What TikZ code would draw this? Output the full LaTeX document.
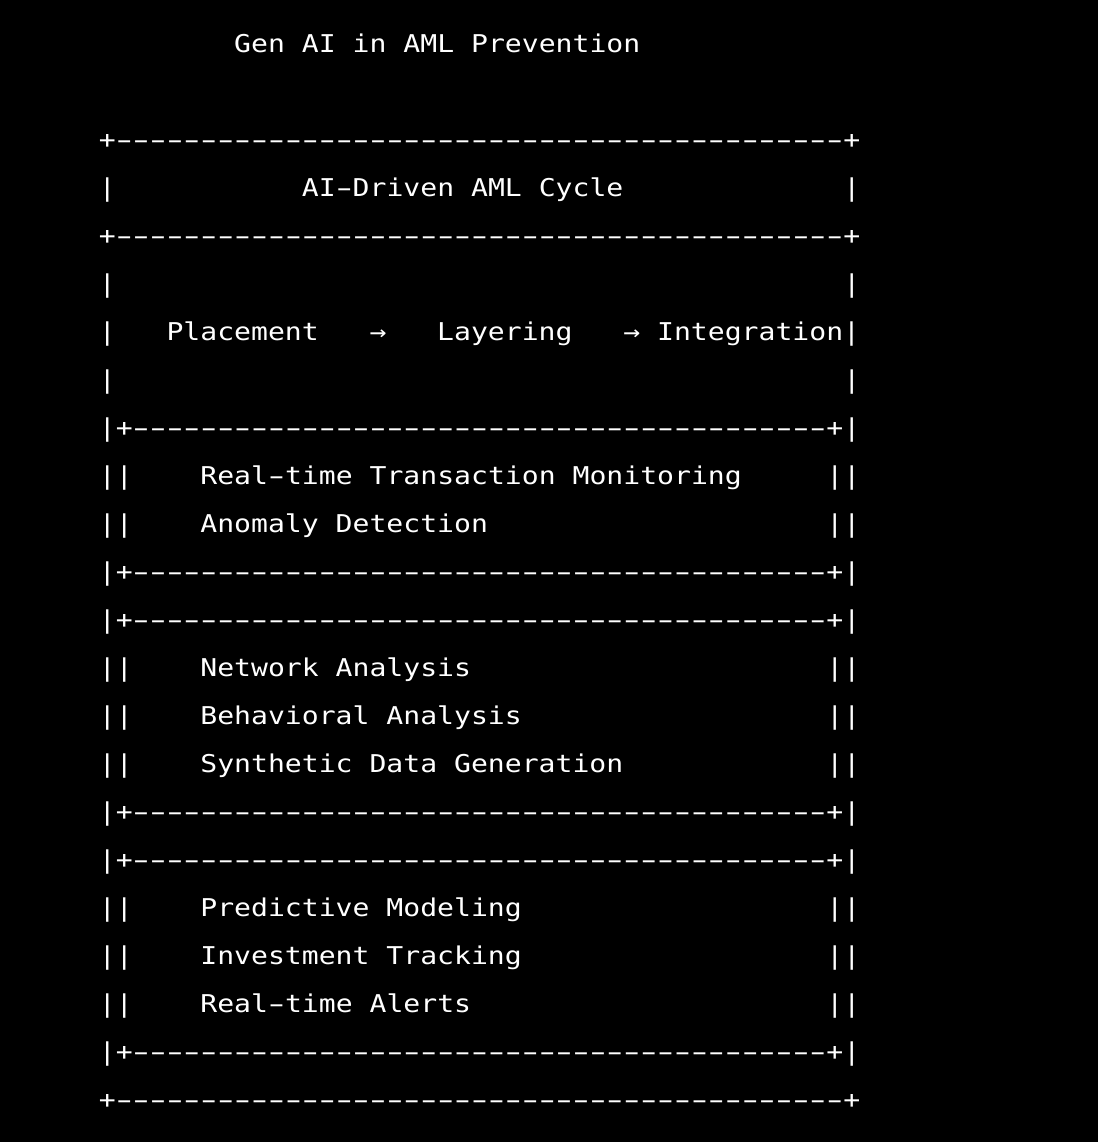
\documentclass[tikz,border=0pt]{standalone}
\usepackage{fontspec}
\usepackage{graphicx}
\newfontfamily\term[FakeStretch=1.147,Ligatures=TeXOff]{DejaVu Sans Mono}
\newcommand{\repeatch}[2]{\foreach \i in {1,...,#1}{#2}}
% wide hyphen, one cell
\newcommand{\dsh}{\makebox[\fontcharwd\font`\-][c]{\scalebox{1.65}[1]{-}}}
\tikzset{ascii/.style={anchor=base west,inner sep=0pt,text=white,font=\term\fontsize{12.25pt}{24pt}\selectfont}}
\begin{document}
\begin{tikzpicture}[x=0.5pt,y=-0.5pt]
\fill[black] (0,0) rectangle (1098,1142);
\node[ascii] (title) at (98.5,52) {\repeatch{8}{~}Gen AI in AML Prevention};
\node[ascii] (top) at (98.5,148) {+\repeatch{43}{\dsh}+};
\node[ascii] (head) at (98.5,196) {|\repeatch{11}{~}AI\dsh Driven AML Cycle\repeatch{13}{~}|};
\node[ascii] (sep) at (98.5,244) {+\repeatch{43}{\dsh}+};
\node[ascii] (gapa) at (98.5,292) {|\repeatch{43}{~}|};
\node[ascii] (flow) at (98.5,340) {|~~~Placement~~~→~~~Layering~~~→~Integration|};
\node[ascii] (gapb) at (98.5,388) {|\repeatch{43}{~}|};
% detection box
\node[ascii] (detTop) at (98.5,436) {|+\repeatch{41}{\dsh}+|};
\node[ascii] (rtm) at (98.5,484) {||~~~~Real\dsh time Transaction Monitoring\repeatch{5}{~}||};
\node[ascii] (anom) at (98.5,532) {||~~~~Anomaly Detection\repeatch{20}{~}||};
\node[ascii] (detBot) at (98.5,580) {|+\repeatch{41}{\dsh}+|};
% analysis box
\node[ascii] (anaTop) at (98.5,628) {|+\repeatch{41}{\dsh}+|};
\node[ascii] (net) at (98.5,676) {||~~~~Network Analysis\repeatch{21}{~}||};
\node[ascii] (beh) at (98.5,724) {||~~~~Behavioral Analysis\repeatch{18}{~}||};
\node[ascii] (syn) at (98.5,772) {||~~~~Synthetic Data Generation\repeatch{12}{~}||};
\node[ascii] (anaBot) at (98.5,820) {|+\repeatch{41}{\dsh}+|};
% prediction box
\node[ascii] (preTop) at (98.5,868) {|+\repeatch{41}{\dsh}+|};
\node[ascii] (pred) at (98.5,916) {||~~~~Predictive Modeling\repeatch{18}{~}||};
\node[ascii] (inv) at (98.5,964) {||~~~~Investment Tracking\repeatch{18}{~}||};
\node[ascii] (alert) at (98.5,1012) {||~~~~Real\dsh time Alerts\repeatch{21}{~}||};
\node[ascii] (preBot) at (98.5,1060) {|+\repeatch{41}{\dsh}+|};
\node[ascii] (bottom) at (98.5,1108) {+\repeatch{43}{\dsh}+};
\end{tikzpicture}
\end{document}
